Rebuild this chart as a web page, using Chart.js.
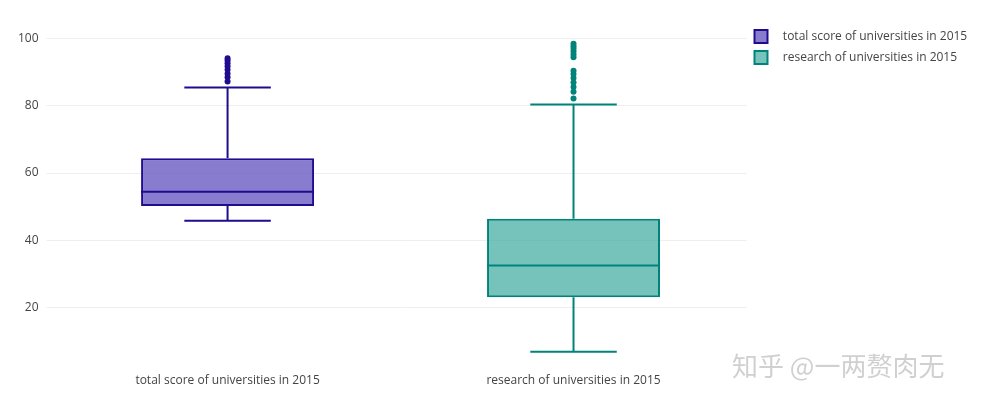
<!DOCTYPE html>
<html>
<head>
<meta charset="utf-8">
<script src="https://cdn.jsdelivr.net/npm/chart.js@4"></script>
<style>
  body { margin: 0; background: #fff; }
  #wrap { position: relative; width: 1002px; height: 407px; }
  #mark { position: absolute; left: 732px; top: 346px; font: 26px "Noto Sans CJK SC"; color: #d0d0d0; }
</style>
</head>
<body>
<div id="wrap">
  <canvas id="myChart" width="1002" height="407"></canvas>
  <div id="mark">知乎 @一两赘肉无</div>
</div>
<script>
const categories = ['total score of universities in 2015', 'research of universities in 2015'];
const seriesNames = ['total score of universities in 2015', 'research of universities in 2015'];
// [lower whisker, q1, median, q3, upper whisker]
const boxStats = [
  [45.8, 50.2, 54.4, 64.4, 85.5],
  [6.7, 23.0, 32.4, 46.4, 80.4]
];
const outliers = [
  [87.3, 88.5, 89.6, 90.8, 91.8, 92.7, 93.5, 94.2],
  [82.2, 84.2, 85.6, 87.0, 88.3, 89.5, 90.5, 94.5, 95.3, 96.2, 97.0, 97.8, 98.5]
];
const yTicks = [20, 40, 60, 80, 100];
const lineColors = ['#1f0c8f', '#00837a'];
const fillColors = ['rgba(96,80,190,0.75)', 'rgba(60,170,160,0.7)'];

// median line, whiskers and outlier dots
const boxPlugin = {
  id: 'boxExtras',
  afterDatasetsDraw(chart) {
    const c = chart.ctx, xs = chart.scales.x, ys = chart.scales.y;
    boxStats.forEach((s, i) => {
      const meta = chart.getDatasetMeta(i).data[i];
      const cx = xs.getPixelForValue(i);
      const half = meta.width / 2;
      c.save();
      c.strokeStyle = lineColors[i];
      c.lineWidth = 2;
      c.beginPath();
      c.moveTo(cx - half, ys.getPixelForValue(s[2]));
      c.lineTo(cx + half, ys.getPixelForValue(s[2]));
      c.moveTo(cx, ys.getPixelForValue(s[3]));
      c.lineTo(cx, ys.getPixelForValue(s[4]));
      c.moveTo(cx, ys.getPixelForValue(s[1]));
      c.lineTo(cx, ys.getPixelForValue(s[0]));
      c.moveTo(cx - half / 2, ys.getPixelForValue(s[4]));
      c.lineTo(cx + half / 2, ys.getPixelForValue(s[4]));
      c.moveTo(cx - half / 2, ys.getPixelForValue(s[0]));
      c.lineTo(cx + half / 2, ys.getPixelForValue(s[0]));
      c.stroke();
      c.fillStyle = lineColors[i];
      outliers[i].forEach(v => {
        c.beginPath();
        c.arc(cx, ys.getPixelForValue(v), 3, 0, Math.PI * 2);
        c.fill();
      });
      c.restore();
    });
  }
};

const datasets = seriesNames.map((name, i) => ({
  label: name,
  data: categories.map((_, j) => j === i ? [boxStats[i][1], boxStats[i][3]] : null),
  backgroundColor: fillColors[i],
  borderColor: lineColors[i],
  borderWidth: 2,
  borderSkipped: false,
  grouped: false,
  barPercentage: 0.5,
  categoryPercentage: 1
}));

new Chart(document.getElementById('myChart'), {
  type: 'bar',
  data: { labels: categories, datasets },
  plugins: [boxPlugin],
  options: {
    responsive: false,
    animation: false,
    layout: { padding: { top: 22, right: 10, left: 10, bottom: 16 } },
    plugins: {
      tooltip: { enabled: false },
      legend: {
        position: 'right',
        align: 'start',
        labels: {
          boxWidth: 13, boxHeight: 13, padding: 8,
          color: '#444', font: { family: 'Open Sans', size: 12 },
          generateLabels: chart => Chart.defaults.plugins.legend.labels.generateLabels(chart)
            .map(l => ({ ...l, text: '   ' + l.text + '      ' }))
        }
      }
    },
    scales: {
      x: {
        grid: { display: false },
        border: { display: false },
        ticks: { color: '#444', font: { family: 'Open Sans', size: 12 } }
      },
      y: {
        min: 3.5, max: 105,
        afterBuildTicks: axis => { axis.ticks = yTicks.map(v => ({ value: v })); },
        grid: { color: '#eeeeee' },
        border: { display: false },
        ticks: { color: '#444', padding: 8, font: { family: 'Open Sans', size: 12 } }
      }
    }
  }
});
</script>
</body>
</html>
